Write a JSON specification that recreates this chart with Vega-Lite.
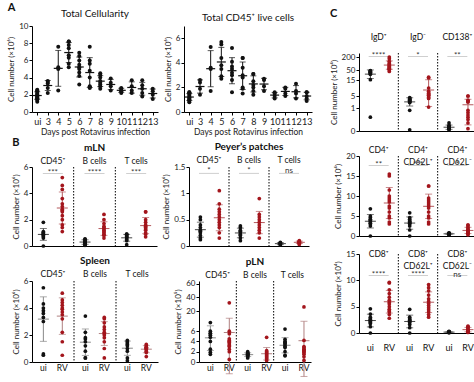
{
"$schema":"https://vega.github.io/schema/vega-lite/v6.json",
"background":"white",
"padding":{"left":7,"top":2,"right":0,"bottom":0},
"config":{"font":"Lato","view":{"stroke":null},
 "axis":{"grid":false,"domainColor":"#000","tickColor":"#000","labelFontSize":8,"titleFontSize":8,"titleFontWeight":"normal","labelColor":"#222","titleColor":"#222","tickSize":3,"labelPadding":1,"titlePadding":3,"labelFont":"Lato","titleFont":"Lato","labelOverlap":false},
 "axisY":{"tickCount":12,"format":"~r"},
 "title":{"fontSize":10,"font":"Lato","offset":3,"color":"#111"},
 "text":{"font":"Lato"}},
"datasets":{
"A":[
{"p":"t","d":"ui","v":1.2},{"p":"t","d":"ui","v":1.4},{"p":"t","d":"ui","v":1.5},{"p":"t","d":"ui","v":1.6},{"p":"t","d":"ui","v":1.7},{"p":"t","d":"ui","v":1.8},{"p":"t","d":"ui","v":1.9},{"p":"t","d":"ui","v":2.0},{"p":"t","d":"ui","v":2.1},{"p":"t","d":"ui","v":2.2},{"p":"t","d":"ui","v":2.4},{"p":"t","d":"ui","v":2.5},{"p":"t","d":"ui","v":2.6},
{"p":"t","d":"3","v":2.2},{"p":"t","d":"3","v":2.8},{"p":"t","d":"3","v":3.3},{"p":"t","d":"3","v":3.5},{"p":"t","d":"3","v":3.6},
{"p":"t","d":"4","v":2.5},{"p":"t","d":"4","v":5.0},{"p":"t","d":"4","v":5.2},{"p":"t","d":"4","v":7.6},
{"p":"t","d":"5","v":5.2},{"p":"t","d":"5","v":5.6},{"p":"t","d":"5","v":6.3},{"p":"t","d":"5","v":6.6},{"p":"t","d":"5","v":7.4},{"p":"t","d":"5","v":7.8},{"p":"t","d":"5","v":8.2},{"p":"t","d":"5","v":8.2},
{"p":"t","d":"6","v":3.2},{"p":"t","d":"6","v":4.2},{"p":"t","d":"6","v":4.6},{"p":"t","d":"6","v":5.0},{"p":"t","d":"6","v":5.2},{"p":"t","d":"6","v":5.5},{"p":"t","d":"6","v":6.0},{"p":"t","d":"6","v":6.5},{"p":"t","d":"6","v":6.9},
{"p":"t","d":"7","v":2.8},{"p":"t","d":"7","v":2.9},{"p":"t","d":"7","v":3.0},{"p":"t","d":"7","v":4.0},{"p":"t","d":"7","v":4.8},{"p":"t","d":"7","v":5.6},{"p":"t","d":"7","v":6.0},{"p":"t","d":"7","v":7.6},
{"p":"t","d":"8","v":2.7},{"p":"t","d":"8","v":3.0},{"p":"t","d":"8","v":3.2},{"p":"t","d":"8","v":3.4},{"p":"t","d":"8","v":3.6},{"p":"t","d":"8","v":4.0},{"p":"t","d":"8","v":4.3},{"p":"t","d":"8","v":4.5},
{"p":"t","d":"9","v":2.5},{"p":"t","d":"9","v":3.0},{"p":"t","d":"9","v":3.4},{"p":"t","d":"9","v":3.9},
{"p":"t","d":"10","v":2.2},{"p":"t","d":"10","v":2.4},{"p":"t","d":"10","v":2.5},{"p":"t","d":"10","v":2.7},{"p":"t","d":"10","v":2.8},
{"p":"t","d":"11","v":2.2},{"p":"t","d":"11","v":2.5},{"p":"t","d":"11","v":3.0},{"p":"t","d":"11","v":3.7},
{"p":"t","d":"12","v":1.8},{"p":"t","d":"12","v":2.2},{"p":"t","d":"12","v":2.7},{"p":"t","d":"12","v":3.1},{"p":"t","d":"12","v":3.7},
{"p":"t","d":"13","v":1.5},{"p":"t","d":"13","v":2.0},{"p":"t","d":"13","v":2.4},{"p":"t","d":"13","v":2.7},
{"p":"c","d":"ui","v":0.8},{"p":"c","d":"ui","v":0.9},{"p":"c","d":"ui","v":1.0},{"p":"c","d":"ui","v":1.0},{"p":"c","d":"ui","v":1.1},{"p":"c","d":"ui","v":1.2},{"p":"c","d":"ui","v":1.3},{"p":"c","d":"ui","v":1.4},{"p":"c","d":"ui","v":1.5},{"p":"c","d":"ui","v":1.6},{"p":"c","d":"ui","v":1.6},
{"p":"c","d":"3","v":1.4},{"p":"c","d":"3","v":1.9},{"p":"c","d":"3","v":2.4},{"p":"c","d":"3","v":2.6},
{"p":"c","d":"4","v":1.7},{"p":"c","d":"4","v":3.5},{"p":"c","d":"4","v":3.6},{"p":"c","d":"4","v":5.3},
{"p":"c","d":"5","v":2.7},{"p":"c","d":"5","v":2.9},{"p":"c","d":"5","v":3.5},{"p":"c","d":"5","v":3.8},{"p":"c","d":"5","v":4.4},{"p":"c","d":"5","v":5.5},{"p":"c","d":"5","v":5.7},
{"p":"c","d":"6","v":1.6},{"p":"c","d":"6","v":2.6},{"p":"c","d":"6","v":3.0},{"p":"c","d":"6","v":3.2},{"p":"c","d":"6","v":3.5},{"p":"c","d":"6","v":3.7},{"p":"c","d":"6","v":4.1},{"p":"c","d":"6","v":5.2},
{"p":"c","d":"7","v":1.5},{"p":"c","d":"7","v":1.9},{"p":"c","d":"7","v":2.0},{"p":"c","d":"7","v":2.8},{"p":"c","d":"7","v":3.0},{"p":"c","d":"7","v":3.6},{"p":"c","d":"7","v":4.4},{"p":"c","d":"7","v":4.4},
{"p":"c","d":"8","v":1.4},{"p":"c","d":"8","v":1.7},{"p":"c","d":"8","v":2.0},{"p":"c","d":"8","v":2.2},{"p":"c","d":"8","v":2.5},{"p":"c","d":"8","v":3.1},{"p":"c","d":"8","v":3.1},
{"p":"c","d":"9","v":1.7},{"p":"c","d":"9","v":2.1},{"p":"c","d":"9","v":2.6},{"p":"c","d":"9","v":2.7},
{"p":"c","d":"10","v":1.1},{"p":"c","d":"10","v":1.3},{"p":"c","d":"10","v":1.5},{"p":"c","d":"10","v":1.6},
{"p":"c","d":"11","v":1.3},{"p":"c","d":"11","v":1.5},{"p":"c","d":"11","v":1.9},{"p":"c","d":"11","v":2.0},
{"p":"c","d":"12","v":1.1},{"p":"c","d":"12","v":1.5},{"p":"c","d":"12","v":1.7},{"p":"c","d":"12","v":2.3},
{"p":"c","d":"13","v":0.9},{"p":"c","d":"13","v":1.1},{"p":"c","d":"13","v":1.3},{"p":"c","d":"13","v":1.6},{"p":"c","d":"13","v":1.6}
],
"grp":[
{"p":"m","g":"a","t":"CD45⁺","s":"***"},{"p":"m","g":"b","t":"B cells","s":"****"},{"p":"m","g":"c","t":"T cells","s":"***"},
{"p":"pp","g":"a","t":"CD45⁺","s":"*"},{"p":"pp","g":"b","t":"B cells","s":"*"},{"p":"pp","g":"c","t":"T cells","s":"ns"},
{"p":"s","g":"a","t":"CD45⁺","s":""},{"p":"s","g":"b","t":"B cells","s":""},{"p":"s","g":"c","t":"T cells","s":""},
{"p":"l","g":"a","t":"CD45⁺","s":""},{"p":"l","g":"b","t":"B cells","s":""},{"p":"l","g":"c","t":"T cells","s":""},
{"p":"c1","g":"a","t":"IgD⁺","s":"****"},{"p":"c1","g":"b","t":"IgD⁻","s":"*"},{"p":"c1","g":"c","t":"CD138⁺","s":"**"},
{"p":"c2","g":"a","t":"CD4⁺","s":"**"},{"p":"c2","g":"b","t":"CD4⁺\nCD62L⁺","s":"***"},{"p":"c2","g":"c","t":"CD4⁺\nCD62L⁻","s":"*"},
{"p":"c3","g":"a","t":"CD8⁺","s":"****"},{"p":"c3","g":"b","t":"CD8⁺\nCD62L⁺","s":"****"},{"p":"c3","g":"c","t":"CD8⁺\nCD62L⁻","s":"ns"}
],
"pts":[
{"p":"m","g":"a","c":"ui","v":0.0},{"p":"m","g":"a","c":"ui","v":0.6},{"p":"m","g":"a","c":"ui","v":0.7},{"p":"m","g":"a","c":"ui","v":0.8},{"p":"m","g":"a","c":"ui","v":0.9},{"p":"m","g":"a","c":"ui","v":0.9},{"p":"m","g":"a","c":"ui","v":1.0},{"p":"m","g":"a","c":"ui","v":1.0},{"p":"m","g":"a","c":"ui","v":1.1},{"p":"m","g":"a","c":"ui","v":1.8},
{"p":"m","g":"a","c":"RV","v":1.1},{"p":"m","g":"a","c":"RV","v":1.4},{"p":"m","g":"a","c":"RV","v":1.6},{"p":"m","g":"a","c":"RV","v":2.0},{"p":"m","g":"a","c":"RV","v":2.3},{"p":"m","g":"a","c":"RV","v":2.6},{"p":"m","g":"a","c":"RV","v":2.7},{"p":"m","g":"a","c":"RV","v":2.8},{"p":"m","g":"a","c":"RV","v":3.0},{"p":"m","g":"a","c":"RV","v":3.2},{"p":"m","g":"a","c":"RV","v":3.6},{"p":"m","g":"a","c":"RV","v":4.3},{"p":"m","g":"a","c":"RV","v":4.6},{"p":"m","g":"a","c":"RV","v":5.2},
{"p":"m","g":"b","c":"ui","v":0.05},{"p":"m","g":"b","c":"ui","v":0.1},{"p":"m","g":"b","c":"ui","v":0.2},{"p":"m","g":"b","c":"ui","v":0.25},{"p":"m","g":"b","c":"ui","v":0.3},{"p":"m","g":"b","c":"ui","v":0.35},{"p":"m","g":"b","c":"ui","v":0.4},{"p":"m","g":"b","c":"ui","v":0.5},{"p":"m","g":"b","c":"ui","v":0.55},
{"p":"m","g":"b","c":"RV","v":0.6},{"p":"m","g":"b","c":"RV","v":0.8},{"p":"m","g":"b","c":"RV","v":0.9},{"p":"m","g":"b","c":"RV","v":1.0},{"p":"m","g":"b","c":"RV","v":1.1},{"p":"m","g":"b","c":"RV","v":1.2},{"p":"m","g":"b","c":"RV","v":1.3},{"p":"m","g":"b","c":"RV","v":1.4},{"p":"m","g":"b","c":"RV","v":1.5},{"p":"m","g":"b","c":"RV","v":1.7},{"p":"m","g":"b","c":"RV","v":2.0},{"p":"m","g":"b","c":"RV","v":2.4},
{"p":"m","g":"c","c":"ui","v":0.1},{"p":"m","g":"c","c":"ui","v":0.4},{"p":"m","g":"c","c":"ui","v":0.5},{"p":"m","g":"c","c":"ui","v":0.6},{"p":"m","g":"c","c":"ui","v":0.7},{"p":"m","g":"c","c":"ui","v":0.7},{"p":"m","g":"c","c":"ui","v":0.8},{"p":"m","g":"c","c":"ui","v":0.9},{"p":"m","g":"c","c":"ui","v":0.9},
{"p":"m","g":"c","c":"RV","v":0.7},{"p":"m","g":"c","c":"RV","v":0.9},{"p":"m","g":"c","c":"RV","v":1.0},{"p":"m","g":"c","c":"RV","v":1.2},{"p":"m","g":"c","c":"RV","v":1.3},{"p":"m","g":"c","c":"RV","v":1.4},{"p":"m","g":"c","c":"RV","v":1.5},{"p":"m","g":"c","c":"RV","v":1.6},{"p":"m","g":"c","c":"RV","v":1.8},{"p":"m","g":"c","c":"RV","v":2.0},{"p":"m","g":"c","c":"RV","v":2.6},{"p":"m","g":"c","c":"RV","v":2.6},
{"p":"pp","g":"a","c":"ui","v":0.12},{"p":"pp","g":"a","c":"ui","v":0.15},{"p":"pp","g":"a","c":"ui","v":0.2},{"p":"pp","g":"a","c":"ui","v":0.25},{"p":"pp","g":"a","c":"ui","v":0.28},{"p":"pp","g":"a","c":"ui","v":0.3},{"p":"pp","g":"a","c":"ui","v":0.35},{"p":"pp","g":"a","c":"ui","v":0.4},{"p":"pp","g":"a","c":"ui","v":0.5},{"p":"pp","g":"a","c":"ui","v":0.55},
{"p":"pp","g":"a","c":"RV","v":0.15},{"p":"pp","g":"a","c":"RV","v":0.25},{"p":"pp","g":"a","c":"RV","v":0.35},{"p":"pp","g":"a","c":"RV","v":0.4},{"p":"pp","g":"a","c":"RV","v":0.45},{"p":"pp","g":"a","c":"RV","v":0.5},{"p":"pp","g":"a","c":"RV","v":0.55},{"p":"pp","g":"a","c":"RV","v":0.6},{"p":"pp","g":"a","c":"RV","v":0.65},{"p":"pp","g":"a","c":"RV","v":0.7},{"p":"pp","g":"a","c":"RV","v":0.8},{"p":"pp","g":"a","c":"RV","v":1.05},
{"p":"pp","g":"b","c":"ui","v":0.1},{"p":"pp","g":"b","c":"ui","v":0.15},{"p":"pp","g":"b","c":"ui","v":0.2},{"p":"pp","g":"b","c":"ui","v":0.22},{"p":"pp","g":"b","c":"ui","v":0.25},{"p":"pp","g":"b","c":"ui","v":0.28},{"p":"pp","g":"b","c":"ui","v":0.3},{"p":"pp","g":"b","c":"ui","v":0.35},{"p":"pp","g":"b","c":"ui","v":0.38},
{"p":"pp","g":"b","c":"RV","v":0.15},{"p":"pp","g":"b","c":"RV","v":0.25},{"p":"pp","g":"b","c":"RV","v":0.3},{"p":"pp","g":"b","c":"RV","v":0.35},{"p":"pp","g":"b","c":"RV","v":0.4},{"p":"pp","g":"b","c":"RV","v":0.45},{"p":"pp","g":"b","c":"RV","v":0.5},{"p":"pp","g":"b","c":"RV","v":0.55},{"p":"pp","g":"b","c":"RV","v":0.6},{"p":"pp","g":"b","c":"RV","v":0.9},
{"p":"pp","g":"c","c":"ui","v":0.02},{"p":"pp","g":"c","c":"ui","v":0.03},{"p":"pp","g":"c","c":"ui","v":0.04},{"p":"pp","g":"c","c":"ui","v":0.05},{"p":"pp","g":"c","c":"ui","v":0.06},{"p":"pp","g":"c","c":"ui","v":0.07},
{"p":"pp","g":"c","c":"RV","v":0.03},{"p":"pp","g":"c","c":"RV","v":0.05},{"p":"pp","g":"c","c":"RV","v":0.06},{"p":"pp","g":"c","c":"RV","v":0.07},{"p":"pp","g":"c","c":"RV","v":0.08},{"p":"pp","g":"c","c":"RV","v":0.08},{"p":"pp","g":"c","c":"RV","v":0.09},{"p":"pp","g":"c","c":"RV","v":0.1},
{"p":"s","g":"a","c":"ui","v":0.5},{"p":"s","g":"a","c":"ui","v":0.6},{"p":"s","g":"a","c":"ui","v":3.0},{"p":"s","g":"a","c":"ui","v":3.3},{"p":"s","g":"a","c":"ui","v":3.6},{"p":"s","g":"a","c":"ui","v":3.8},{"p":"s","g":"a","c":"ui","v":4.0},{"p":"s","g":"a","c":"ui","v":4.3},{"p":"s","g":"a","c":"ui","v":5.5},
{"p":"s","g":"a","c":"RV","v":0.5},{"p":"s","g":"a","c":"RV","v":1.5},{"p":"s","g":"a","c":"RV","v":2.2},{"p":"s","g":"a","c":"RV","v":3.2},{"p":"s","g":"a","c":"RV","v":3.5},{"p":"s","g":"a","c":"RV","v":3.7},{"p":"s","g":"a","c":"RV","v":3.9},{"p":"s","g":"a","c":"RV","v":4.0},{"p":"s","g":"a","c":"RV","v":4.2},{"p":"s","g":"a","c":"RV","v":4.4},{"p":"s","g":"a","c":"RV","v":4.6},{"p":"s","g":"a","c":"RV","v":5.1},
{"p":"s","g":"b","c":"ui","v":0.3},{"p":"s","g":"b","c":"ui","v":0.3},{"p":"s","g":"b","c":"ui","v":0.8},{"p":"s","g":"b","c":"ui","v":1.2},{"p":"s","g":"b","c":"ui","v":1.5},{"p":"s","g":"b","c":"ui","v":1.7},{"p":"s","g":"b","c":"ui","v":1.8},{"p":"s","g":"b","c":"ui","v":2.2},{"p":"s","g":"b","c":"ui","v":3.4},
{"p":"s","g":"b","c":"RV","v":0.3},{"p":"s","g":"b","c":"RV","v":1.0},{"p":"s","g":"b","c":"RV","v":1.5},{"p":"s","g":"b","c":"RV","v":1.8},{"p":"s","g":"b","c":"RV","v":2.0},{"p":"s","g":"b","c":"RV","v":2.1},{"p":"s","g":"b","c":"RV","v":2.2},{"p":"s","g":"b","c":"RV","v":2.4},{"p":"s","g":"b","c":"RV","v":2.6},{"p":"s","g":"b","c":"RV","v":2.9},{"p":"s","g":"b","c":"RV","v":3.2},{"p":"s","g":"b","c":"RV","v":3.3},
{"p":"s","g":"c","c":"ui","v":0.1},{"p":"s","g":"c","c":"ui","v":0.3},{"p":"s","g":"c","c":"ui","v":0.8},{"p":"s","g":"c","c":"ui","v":1.0},{"p":"s","g":"c","c":"ui","v":1.2},{"p":"s","g":"c","c":"ui","v":1.3},{"p":"s","g":"c","c":"ui","v":1.4},{"p":"s","g":"c","c":"ui","v":1.5},{"p":"s","g":"c","c":"ui","v":1.6},
{"p":"s","g":"c","c":"RV","v":0.4},{"p":"s","g":"c","c":"RV","v":0.7},{"p":"s","g":"c","c":"RV","v":0.8},{"p":"s","g":"c","c":"RV","v":0.9},{"p":"s","g":"c","c":"RV","v":1.0},{"p":"s","g":"c","c":"RV","v":1.0},{"p":"s","g":"c","c":"RV","v":1.1},{"p":"s","g":"c","c":"RV","v":1.1},{"p":"s","g":"c","c":"RV","v":1.2},{"p":"s","g":"c","c":"RV","v":1.3},
{"p":"l","g":"a","c":"ui","v":1.5},{"p":"l","g":"a","c":"ui","v":1.9},{"p":"l","g":"a","c":"ui","v":2.5},{"p":"l","g":"a","c":"ui","v":4.0},{"p":"l","g":"a","c":"ui","v":4.8},{"p":"l","g":"a","c":"ui","v":5.2},{"p":"l","g":"a","c":"ui","v":5.5},{"p":"l","g":"a","c":"ui","v":5.6},{"p":"l","g":"a","c":"ui","v":6.0},{"p":"l","g":"a","c":"ui","v":10},
{"p":"l","g":"a","c":"RV","v":0.5},{"p":"l","g":"a","c":"RV","v":2.0},{"p":"l","g":"a","c":"RV","v":2.5},{"p":"l","g":"a","c":"RV","v":3.0},{"p":"l","g":"a","c":"RV","v":3.2},{"p":"l","g":"a","c":"RV","v":3.5},{"p":"l","g":"a","c":"RV","v":3.8},{"p":"l","g":"a","c":"RV","v":4.0},{"p":"l","g":"a","c":"RV","v":4.2},{"p":"l","g":"a","c":"RV","v":4.5},{"p":"l","g":"a","c":"RV","v":5.5},{"p":"l","g":"a","c":"RV","v":6.0},{"p":"l","g":"a","c":"RV","v":32},
{"p":"l","g":"b","c":"ui","v":0.8},{"p":"l","g":"b","c":"ui","v":1.0},{"p":"l","g":"b","c":"ui","v":1.2},{"p":"l","g":"b","c":"ui","v":1.3},{"p":"l","g":"b","c":"ui","v":1.4},{"p":"l","g":"b","c":"ui","v":1.5},{"p":"l","g":"b","c":"ui","v":1.6},{"p":"l","g":"b","c":"ui","v":1.7},{"p":"l","g":"b","c":"ui","v":1.8},{"p":"l","g":"b","c":"ui","v":2.0},
{"p":"l","g":"b","c":"RV","v":0.3},{"p":"l","g":"b","c":"RV","v":0.6},{"p":"l","g":"b","c":"RV","v":0.8},{"p":"l","g":"b","c":"RV","v":1.0},{"p":"l","g":"b","c":"RV","v":1.2},{"p":"l","g":"b","c":"RV","v":1.4},{"p":"l","g":"b","c":"RV","v":1.6},{"p":"l","g":"b","c":"RV","v":1.8},{"p":"l","g":"b","c":"RV","v":2.0},{"p":"l","g":"b","c":"RV","v":2.2},{"p":"l","g":"b","c":"RV","v":4.8},
{"p":"l","g":"c","c":"ui","v":1.2},{"p":"l","g":"c","c":"ui","v":1.3},{"p":"l","g":"c","c":"ui","v":2.0},{"p":"l","g":"c","c":"ui","v":2.8},{"p":"l","g":"c","c":"ui","v":3.0},{"p":"l","g":"c","c":"ui","v":3.3},{"p":"l","g":"c","c":"ui","v":3.6},{"p":"l","g":"c","c":"ui","v":3.8},{"p":"l","g":"c","c":"ui","v":4.0},{"p":"l","g":"c","c":"ui","v":4.4},{"p":"l","g":"c","c":"ui","v":6.4},
{"p":"l","g":"c","c":"RV","v":0.3},{"p":"l","g":"c","c":"RV","v":1.0},{"p":"l","g":"c","c":"RV","v":1.5},{"p":"l","g":"c","c":"RV","v":1.8},{"p":"l","g":"c","c":"RV","v":2.0},{"p":"l","g":"c","c":"RV","v":2.2},{"p":"l","g":"c","c":"RV","v":2.4},{"p":"l","g":"c","c":"RV","v":2.5},{"p":"l","g":"c","c":"RV","v":2.8},{"p":"l","g":"c","c":"RV","v":3.0},{"p":"l","g":"c","c":"RV","v":4.2},{"p":"l","g":"c","c":"RV","v":26},
{"p":"c1","g":"a","c":"ui","v":0.6},{"p":"c1","g":"a","c":"ui","v":16},{"p":"c1","g":"a","c":"ui","v":35},{"p":"c1","g":"a","c":"ui","v":38},{"p":"c1","g":"a","c":"ui","v":40},{"p":"c1","g":"a","c":"ui","v":42},{"p":"c1","g":"a","c":"ui","v":44},{"p":"c1","g":"a","c":"ui","v":45},{"p":"c1","g":"a","c":"ui","v":47},{"p":"c1","g":"a","c":"ui","v":48},
{"p":"c1","g":"a","c":"RV","v":45},{"p":"c1","g":"a","c":"RV","v":55},{"p":"c1","g":"a","c":"RV","v":60},{"p":"c1","g":"a","c":"RV","v":70},{"p":"c1","g":"a","c":"RV","v":80},{"p":"c1","g":"a","c":"RV","v":90},{"p":"c1","g":"a","c":"RV","v":100},{"p":"c1","g":"a","c":"RV","v":110},{"p":"c1","g":"a","c":"RV","v":120},{"p":"c1","g":"a","c":"RV","v":130},{"p":"c1","g":"a","c":"RV","v":150},{"p":"c1","g":"a","c":"RV","v":180},{"p":"c1","g":"a","c":"RV","v":200},
{"p":"c1","g":"b","c":"ui","v":0.05},{"p":"c1","g":"b","c":"ui","v":0.9},{"p":"c1","g":"b","c":"ui","v":2.8},{"p":"c1","g":"b","c":"ui","v":3.0},{"p":"c1","g":"b","c":"ui","v":3.2},{"p":"c1","g":"b","c":"ui","v":3.4},{"p":"c1","g":"b","c":"ui","v":3.6},{"p":"c1","g":"b","c":"ui","v":3.8},{"p":"c1","g":"b","c":"ui","v":4.0},{"p":"c1","g":"b","c":"ui","v":4.2},{"p":"c1","g":"b","c":"ui","v":4.5},
{"p":"c1","g":"b","c":"RV","v":1.3},{"p":"c1","g":"b","c":"RV","v":4.2},{"p":"c1","g":"b","c":"RV","v":4.5},{"p":"c1","g":"b","c":"RV","v":5.0},{"p":"c1","g":"b","c":"RV","v":5.5},{"p":"c1","g":"b","c":"RV","v":6.0},{"p":"c1","g":"b","c":"RV","v":6.5},{"p":"c1","g":"b","c":"RV","v":7.0},{"p":"c1","g":"b","c":"RV","v":8.0},{"p":"c1","g":"b","c":"RV","v":10},{"p":"c1","g":"b","c":"RV","v":22},{"p":"c1","g":"b","c":"RV","v":25},
{"p":"c1","g":"c","c":"ui","v":0.05},{"p":"c1","g":"c","c":"ui","v":0.08},{"p":"c1","g":"c","c":"ui","v":0.1},{"p":"c1","g":"c","c":"ui","v":0.12},{"p":"c1","g":"c","c":"ui","v":0.15},{"p":"c1","g":"c","c":"ui","v":0.18},{"p":"c1","g":"c","c":"ui","v":0.2},{"p":"c1","g":"c","c":"ui","v":0.25},{"p":"c1","g":"c","c":"ui","v":0.35},
{"p":"c1","g":"c","c":"RV","v":0.1},{"p":"c1","g":"c","c":"RV","v":0.35},{"p":"c1","g":"c","c":"RV","v":0.5},{"p":"c1","g":"c","c":"RV","v":0.6},{"p":"c1","g":"c","c":"RV","v":0.7},{"p":"c1","g":"c","c":"RV","v":0.8},{"p":"c1","g":"c","c":"RV","v":0.9},{"p":"c1","g":"c","c":"RV","v":3.0},{"p":"c1","g":"c","c":"RV","v":3.1},{"p":"c1","g":"c","c":"RV","v":3.4},{"p":"c1","g":"c","c":"RV","v":3.6},{"p":"c1","g":"c","c":"RV","v":5.0},{"p":"c1","g":"c","c":"RV","v":5.0},
{"p":"c2","g":"a","c":"ui","v":0},{"p":"c2","g":"a","c":"ui","v":2.5},{"p":"c2","g":"a","c":"ui","v":3.0},{"p":"c2","g":"a","c":"ui","v":3.2},{"p":"c2","g":"a","c":"ui","v":3.5},{"p":"c2","g":"a","c":"ui","v":3.8},{"p":"c2","g":"a","c":"ui","v":4.0},{"p":"c2","g":"a","c":"ui","v":4.2},{"p":"c2","g":"a","c":"ui","v":4.6},{"p":"c2","g":"a","c":"ui","v":5.0},{"p":"c2","g":"a","c":"ui","v":6.8},
{"p":"c2","g":"a","c":"RV","v":3},{"p":"c2","g":"a","c":"RV","v":3.5},{"p":"c2","g":"a","c":"RV","v":4.5},{"p":"c2","g":"a","c":"RV","v":5},{"p":"c2","g":"a","c":"RV","v":6},{"p":"c2","g":"a","c":"RV","v":7},{"p":"c2","g":"a","c":"RV","v":7.5},{"p":"c2","g":"a","c":"RV","v":8.5},{"p":"c2","g":"a","c":"RV","v":9},{"p":"c2","g":"a","c":"RV","v":9.5},{"p":"c2","g":"a","c":"RV","v":10},{"p":"c2","g":"a","c":"RV","v":11.5},{"p":"c2","g":"a","c":"RV","v":15},{"p":"c2","g":"a","c":"RV","v":15.5},
{"p":"c2","g":"b","c":"ui","v":0},{"p":"c2","g":"b","c":"ui","v":1.5},{"p":"c2","g":"b","c":"ui","v":2.5},{"p":"c2","g":"b","c":"ui","v":3.0},{"p":"c2","g":"b","c":"ui","v":3.2},{"p":"c2","g":"b","c":"ui","v":3.4},{"p":"c2","g":"b","c":"ui","v":3.6},{"p":"c2","g":"b","c":"ui","v":3.8},{"p":"c2","g":"b","c":"ui","v":4.2},{"p":"c2","g":"b","c":"ui","v":4.6},{"p":"c2","g":"b","c":"ui","v":5.8},
{"p":"c2","g":"b","c":"RV","v":3},{"p":"c2","g":"b","c":"RV","v":3.5},{"p":"c2","g":"b","c":"RV","v":4.5},{"p":"c2","g":"b","c":"RV","v":5},{"p":"c2","g":"b","c":"RV","v":6},{"p":"c2","g":"b","c":"RV","v":7},{"p":"c2","g":"b","c":"RV","v":7.5},{"p":"c2","g":"b","c":"RV","v":8},{"p":"c2","g":"b","c":"RV","v":8.5},{"p":"c2","g":"b","c":"RV","v":9},{"p":"c2","g":"b","c":"RV","v":9.5},{"p":"c2","g":"b","c":"RV","v":12.5},{"p":"c2","g":"b","c":"RV","v":12.5},
{"p":"c2","g":"c","c":"ui","v":0.3},{"p":"c2","g":"c","c":"ui","v":0.4},{"p":"c2","g":"c","c":"ui","v":0.5},{"p":"c2","g":"c","c":"ui","v":0.5},{"p":"c2","g":"c","c":"ui","v":0.5},{"p":"c2","g":"c","c":"ui","v":0.6},{"p":"c2","g":"c","c":"ui","v":0.6},{"p":"c2","g":"c","c":"ui","v":0.7},{"p":"c2","g":"c","c":"ui","v":0.8},
{"p":"c2","g":"c","c":"RV","v":0.3},{"p":"c2","g":"c","c":"RV","v":0.5},{"p":"c2","g":"c","c":"RV","v":0.7},{"p":"c2","g":"c","c":"RV","v":0.9},{"p":"c2","g":"c","c":"RV","v":1.0},{"p":"c2","g":"c","c":"RV","v":1.1},{"p":"c2","g":"c","c":"RV","v":1.2},{"p":"c2","g":"c","c":"RV","v":1.4},{"p":"c2","g":"c","c":"RV","v":1.6},{"p":"c2","g":"c","c":"RV","v":1.8},{"p":"c2","g":"c","c":"RV","v":2.2},{"p":"c2","g":"c","c":"RV","v":2.6},{"p":"c2","g":"c","c":"RV","v":2.8},
{"p":"c3","g":"a","c":"ui","v":0},{"p":"c3","g":"a","c":"ui","v":1.2},{"p":"c3","g":"a","c":"ui","v":1.8},{"p":"c3","g":"a","c":"ui","v":2.0},{"p":"c3","g":"a","c":"ui","v":2.2},{"p":"c3","g":"a","c":"ui","v":2.4},{"p":"c3","g":"a","c":"ui","v":2.5},{"p":"c3","g":"a","c":"ui","v":2.7},{"p":"c3","g":"a","c":"ui","v":3.0},{"p":"c3","g":"a","c":"ui","v":3.6},{"p":"c3","g":"a","c":"ui","v":4.6},
{"p":"c3","g":"a","c":"RV","v":2.8},{"p":"c3","g":"a","c":"RV","v":3.5},{"p":"c3","g":"a","c":"RV","v":4.0},{"p":"c3","g":"a","c":"RV","v":4.2},{"p":"c3","g":"a","c":"RV","v":4.5},{"p":"c3","g":"a","c":"RV","v":5.0},{"p":"c3","g":"a","c":"RV","v":5.5},{"p":"c3","g":"a","c":"RV","v":5.8},{"p":"c3","g":"a","c":"RV","v":6.2},{"p":"c3","g":"a","c":"RV","v":6.8},{"p":"c3","g":"a","c":"RV","v":7.5},{"p":"c3","g":"a","c":"RV","v":8.2},{"p":"c3","g":"a","c":"RV","v":9.5},{"p":"c3","g":"a","c":"RV","v":9.6},
{"p":"c3","g":"b","c":"ui","v":0},{"p":"c3","g":"b","c":"ui","v":1.0},{"p":"c3","g":"b","c":"ui","v":1.6},{"p":"c3","g":"b","c":"ui","v":2.0},{"p":"c3","g":"b","c":"ui","v":2.2},{"p":"c3","g":"b","c":"ui","v":2.4},{"p":"c3","g":"b","c":"ui","v":2.5},{"p":"c3","g":"b","c":"ui","v":2.7},{"p":"c3","g":"b","c":"ui","v":3.0},{"p":"c3","g":"b","c":"ui","v":4.5},
{"p":"c3","g":"b","c":"RV","v":3.0},{"p":"c3","g":"b","c":"RV","v":3.5},{"p":"c3","g":"b","c":"RV","v":4.0},{"p":"c3","g":"b","c":"RV","v":4.4},{"p":"c3","g":"b","c":"RV","v":4.8},{"p":"c3","g":"b","c":"RV","v":5.2},{"p":"c3","g":"b","c":"RV","v":5.6},{"p":"c3","g":"b","c":"RV","v":6.0},{"p":"c3","g":"b","c":"RV","v":6.5},{"p":"c3","g":"b","c":"RV","v":7.2},{"p":"c3","g":"b","c":"RV","v":8.0},{"p":"c3","g":"b","c":"RV","v":8.6},{"p":"c3","g":"b","c":"RV","v":9.2},
{"p":"c3","g":"c","c":"ui","v":0.05},{"p":"c3","g":"c","c":"ui","v":0.1},{"p":"c3","g":"c","c":"ui","v":0.1},{"p":"c3","g":"c","c":"ui","v":0.15},{"p":"c3","g":"c","c":"ui","v":0.2},{"p":"c3","g":"c","c":"ui","v":0.2},{"p":"c3","g":"c","c":"ui","v":0.25},{"p":"c3","g":"c","c":"ui","v":0.3},
{"p":"c3","g":"c","c":"RV","v":0.1},{"p":"c3","g":"c","c":"RV","v":0.2},{"p":"c3","g":"c","c":"RV","v":0.3},{"p":"c3","g":"c","c":"RV","v":0.4},{"p":"c3","g":"c","c":"RV","v":0.5},{"p":"c3","g":"c","c":"RV","v":0.6},{"p":"c3","g":"c","c":"RV","v":0.8},{"p":"c3","g":"c","c":"RV","v":1.0},{"p":"c3","g":"c","c":"RV","v":1.2},{"p":"c3","g":"c","c":"RV","v":1.3}
]
},
"spacing":18,
"hconcat":[
 {"spacing":0,"vconcat":[
  {"title":{"text":"A","anchor":"start","fontWeight":"bold","fontSize":11,"offset":-4},
   "spacing":6,
   "hconcat":[
    {"width":126,"height":86,
     "title":{"text":"Total Cellularity","fontWeight":"normal","fontSize":10},
     "data":{"name":"A"},"transform":[{"filter":"datum.p=='t'"}],
     "encoding":{"x":{"field":"d","type":"ordinal","scale":{"type":"point","domain":["ui","3","4","5","6","7","8","9","10","11","12","13"],"padding":0.5},"axis":{"labelAngle":0,"labelFontSize":9,"title":"Days post Rotavirus infection","titleFontSize":8.5,"tickSize":3,"labelPadding":2,"titlePadding":1}}},
     "layer":[
      {"mark":{"type":"errorbar","extent":"stdev","ticks":{"size":6},"color":"#111"},"encoding":{"y":{"field":"v","type":"quantitative","scale":{"domain":[0,10],"nice":false},"axis":{"values":[0,2,4,6,8,10],"tickCount":12,"format":"~r","title":"Cell number (×10⁶)"}}}},
      {"mark":{"type":"tick","thickness":1.2,"size":9,"color":"#111"},"encoding":{"y":{"aggregate":"mean","field":"v","type":"quantitative"}}},
      {"mark":{"type":"point","filled":true,"size":16,"color":"#111","opacity":1},"encoding":{"y":{"field":"v","type":"quantitative"}}}
     ]},
    {"width":128,"height":86,
     "title":{"text":"Total CD45⁺ live cells","fontWeight":"normal","fontSize":10},
     "data":{"name":"A"},"transform":[{"filter":"datum.p=='c'"}],
     "encoding":{"x":{"field":"d","type":"ordinal","scale":{"type":"point","domain":["ui","3","4","5","6","7","8","9","10","11","12","13"],"padding":0.5},"axis":{"labelAngle":0,"labelFontSize":9,"title":"Days post Rotavirus infection","titleFontSize":8.5,"tickSize":3,"labelPadding":2,"titlePadding":1}}},
     "layer":[
      {"mark":{"type":"errorbar","extent":"stdev","ticks":{"size":6},"color":"#111"},"encoding":{"y":{"field":"v","type":"quantitative","scale":{"domain":[0,7],"nice":false},"axis":{"values":[0,2,4,6],"tickCount":12,"format":"~r","title":"Cell number (×10⁶)"}}}},
      {"mark":{"type":"tick","thickness":1.2,"size":9,"color":"#111"},"encoding":{"y":{"aggregate":"mean","field":"v","type":"quantitative"}}},
      {"mark":{"type":"point","filled":true,"size":16,"color":"#111","opacity":1},"encoding":{"y":{"field":"v","type":"quantitative"}}}
     ]}
   ]},
  {"title":{"text":"B","anchor":"start","fontWeight":"bold","fontSize":11,"offset":-6},
   "spacing":6,
   "vconcat":[
    {"spacing":5,"hconcat":[
     {"width":125,"height":79,"title":{"text":"mLN","fontWeight":"bold","fontSize":10,"offset":4},
      "layer":[
       {"data":{"name":"grp"},"transform":[{"filter":"datum.p=='m' && datum.g!='a'"}],"mark":{"type":"rule","strokeDash":[1.5,1.5],"color":"#000"},
        "encoding":{"x":{"field":"g","type":"nominal","bandPosition":0,"scale":{"type":"band","domain":["a","b","c"],"paddingInner":0,"paddingOuter":0},"axis":{"labels":false,"ticks":false,"title":null}}}},
       {"data":{"name":"grp"},"transform":[{"filter":"datum.p=='m'"}],"mark":{"type":"text","baseline":"bottom","fontSize":8.5,"lineBreak":"\n","lineHeight":11,"color":"#111"},
        "encoding":{"x":{"field":"g","type":"nominal"},"y":{"datum":6.1,"type":"quantitative"},"text":{"field":"t"}}},
       {"data":{"name":"grp"},"transform":[{"filter":"datum.p=='m'"}],"mark":{"type":"tick","orient":"horizontal","size":20,"thickness":0.8,"color":"#aaa"},
        "encoding":{"x":{"field":"g","type":"nominal"},"y":{"datum":5.5,"type":"quantitative"}}},
       {"data":{"name":"grp"},"transform":[{"filter":"datum.p=='m'"}],"mark":{"type":"text","baseline":"middle","fontSize":8,"color":"#333"},
        "encoding":{"x":{"field":"g","type":"nominal"},"y":{"datum":5.55,"type":"quantitative"},"text":{"field":"s"}}},
       {"data":{"name":"pts"},"transform":[{"filter":"datum.p=='m'"}],"mark":{"type":"errorbar","extent":"stdev","ticks":{"size":7}},
        "encoding":{"x":{"field":"g","type":"nominal"},"xOffset":{"field":"c","type":"nominal","scale":{"domain":["ui","RV"],"paddingInner":0,"paddingOuter":0.1}},
         "y":{"field":"v","type":"quantitative","scale":{"domain":[0,6],"nice":false},"axis":{"values":[0,2,4,6],"tickCount":12,"format":"~r","title":"Cell number (×10⁶)"}},
         "color":{"condition":{"test":"datum.c=='RV'","value":"#b4585c"},"value":"#444"}}},
       {"data":{"name":"pts"},"transform":[{"filter":"datum.p=='m'"}],"mark":{"type":"tick","thickness":1,"size":11},
        "encoding":{"x":{"field":"g","type":"nominal"},"xOffset":{"field":"c","type":"nominal"},"y":{"aggregate":"mean","field":"v","type":"quantitative"},
         "color":{"condition":{"test":"datum.c=='RV'","value":"#b4585c"},"value":"#444"}}},
       {"data":{"name":"pts"},"transform":[{"filter":"datum.p=='m'"}],"mark":{"type":"point","filled":true,"size":14,"opacity":1},
        "encoding":{"x":{"field":"g","type":"nominal"},"xOffset":{"field":"c","type":"nominal"},"y":{"field":"v","type":"quantitative"},
         "color":{"field":"c","type":"nominal","scale":{"domain":["ui","RV"],"range":["#111","#a3151c"]},"legend":null}}}
      ]},
     {"width":120,"height":79,"title":{"text":"Peyer’s patches","fontWeight":"bold","fontSize":10,"offset":4},
      "layer":[
       {"data":{"name":"grp"},"transform":[{"filter":"datum.p=='pp' && datum.g!='a'"}],"mark":{"type":"rule","strokeDash":[1.5,1.5],"color":"#000"},
        "encoding":{"x":{"field":"g","type":"nominal","bandPosition":0,"scale":{"type":"band","domain":["a","b","c"],"paddingInner":0,"paddingOuter":0},"axis":{"labels":false,"ticks":false,"title":null}}}},
       {"data":{"name":"grp"},"transform":[{"filter":"datum.p=='pp'"}],"mark":{"type":"text","baseline":"bottom","fontSize":8.5,"lineBreak":"\n","lineHeight":11,"color":"#111"},
        "encoding":{"x":{"field":"g","type":"nominal"},"y":{"datum":1.54,"type":"quantitative"},"text":{"field":"t"}}},
       {"data":{"name":"grp"},"transform":[{"filter":"datum.p=='pp'"}],"mark":{"type":"tick","orient":"horizontal","size":20,"thickness":0.8,"color":"#aaa"},
        "encoding":{"x":{"field":"g","type":"nominal"},"y":{"datum":1.38,"type":"quantitative"}}},
       {"data":{"name":"grp"},"transform":[{"filter":"datum.p=='pp'"}],"mark":{"type":"text","baseline":"middle","fontSize":8,"color":"#333"},
        "encoding":{"x":{"field":"g","type":"nominal"},"y":{"datum":1.43,"type":"quantitative"},"text":{"field":"s"}}},
       {"data":{"name":"pts"},"transform":[{"filter":"datum.p=='pp'"}],"mark":{"type":"errorbar","extent":"stdev","ticks":{"size":7}},
        "encoding":{"x":{"field":"g","type":"nominal"},"xOffset":{"field":"c","type":"nominal","scale":{"domain":["ui","RV"],"paddingInner":0,"paddingOuter":0.1}},
         "y":{"field":"v","type":"quantitative","scale":{"domain":[0,1.5],"nice":false},"axis":{"values":[0,0.5,1,1.5],"tickCount":12,"format":"~r","title":"Cell number (×10⁶)"}},
         "color":{"condition":{"test":"datum.c=='RV'","value":"#b4585c"},"value":"#444"}}},
       {"data":{"name":"pts"},"transform":[{"filter":"datum.p=='pp'"}],"mark":{"type":"tick","thickness":1,"size":11},
        "encoding":{"x":{"field":"g","type":"nominal"},"xOffset":{"field":"c","type":"nominal"},"y":{"aggregate":"mean","field":"v","type":"quantitative"},
         "color":{"condition":{"test":"datum.c=='RV'","value":"#b4585c"},"value":"#444"}}},
       {"data":{"name":"pts"},"transform":[{"filter":"datum.p=='pp'"}],"mark":{"type":"point","filled":true,"size":14,"opacity":1},
        "encoding":{"x":{"field":"g","type":"nominal"},"xOffset":{"field":"c","type":"nominal"},"y":{"field":"v","type":"quantitative"},
         "color":{"field":"c","type":"nominal","scale":{"domain":["ui","RV"],"range":["#111","#a3151c"]},"legend":null}}}
      ]}
    ]},
    {"spacing":16,"hconcat":[
     {"width":126,"height":81,"title":{"text":"Spleen","fontWeight":"bold","fontSize":10,"offset":4},
      "layer":[
       {"data":{"name":"grp"},"transform":[{"filter":"datum.p=='s' && datum.g!='a'"}],"mark":{"type":"rule","strokeDash":[1.5,1.5],"color":"#000"},
        "encoding":{"x":{"field":"g","type":"nominal","bandPosition":0,"scale":{"type":"band","domain":["a","b","c"],"paddingInner":0,"paddingOuter":0},"axis":{"labels":false,"ticks":false,"title":null}}}},
       {"data":{"name":"grp"},"transform":[{"filter":"datum.p=='s'"}],"mark":{"type":"text","baseline":"bottom","fontSize":8.5,"lineBreak":"\n","lineHeight":11,"color":"#111"},
        "encoding":{"x":{"field":"g","type":"nominal"},"y":{"datum":6.12,"type":"quantitative"},"text":{"field":"t"}}},
       {"data":{"name":"pts"},"transform":[{"filter":"datum.p=='s'"},{"aggregate":[{"op":"count","as":"n"}],"groupby":["g","c"]}],"mark":{"type":"text","baseline":"middle","fontSize":8.5,"color":"#111"},
        "encoding":{"x":{"field":"g","type":"nominal"},"xOffset":{"field":"c","type":"nominal"},"y":{"datum":-0.42,"type":"quantitative"},"text":{"field":"c"}}},
       {"data":{"name":"pts"},"transform":[{"filter":"datum.p=='s'"}],"mark":{"type":"errorbar","extent":"stdev","ticks":{"size":7}},
        "encoding":{"x":{"field":"g","type":"nominal"},"xOffset":{"field":"c","type":"nominal","scale":{"domain":["ui","RV"],"paddingInner":0,"paddingOuter":0.1}},
         "y":{"field":"v","type":"quantitative","scale":{"domain":[0,6],"nice":false},"axis":{"values":[0,2,4,6],"tickCount":12,"format":"~r","title":"Cell number (×10⁶)"}},
         "color":{"condition":{"test":"datum.c=='RV'","value":"#b08080"},"value":"#888"}}},
       {"data":{"name":"pts"},"transform":[{"filter":"datum.p=='s'"}],"mark":{"type":"tick","thickness":1,"size":11},
        "encoding":{"x":{"field":"g","type":"nominal"},"xOffset":{"field":"c","type":"nominal"},"y":{"aggregate":"mean","field":"v","type":"quantitative"},
         "color":{"condition":{"test":"datum.c=='RV'","value":"#b08080"},"value":"#888"}}},
       {"data":{"name":"pts"},"transform":[{"filter":"datum.p=='s'"}],"mark":{"type":"point","filled":true,"size":14,"opacity":1},
        "encoding":{"x":{"field":"g","type":"nominal"},"xOffset":{"field":"c","type":"nominal"},"y":{"field":"v","type":"quantitative"},
         "color":{"field":"c","type":"nominal","scale":{"domain":["ui","RV"],"range":["#111","#a3151c"]},"legend":null}}}
      ]},
     {"width":112,"height":81,"title":{"text":"pLN","fontWeight":"bold","fontSize":10,"offset":4},
      "layer":[
       {"data":{"name":"grp"},"transform":[{"filter":"datum.p=='l' && datum.g!='a'"}],"mark":{"type":"rule","strokeDash":[1.5,1.5],"color":"#000"},
        "encoding":{"x":{"field":"g","type":"nominal","bandPosition":0,"scale":{"type":"band","domain":["a","b","c"],"paddingInner":0,"paddingOuter":0},"axis":{"labels":false,"ticks":false,"title":null}}}},
       {"data":{"name":"grp"},"transform":[{"filter":"datum.p=='l'"}],"mark":{"type":"text","baseline":"bottom","fontSize":8.5,"lineBreak":"\n","lineHeight":11,"color":"#111"},
        "encoding":{"x":{"field":"g","type":"nominal"},"y":{"datum":65,"type":"quantitative"},"text":{"field":"t"}}},
       {"data":{"name":"pts"},"transform":[{"filter":"datum.p=='l'"},{"aggregate":[{"op":"count","as":"n"}],"groupby":["g","c"]}],"mark":{"type":"text","baseline":"middle","fontSize":8.5,"color":"#111"},
        "encoding":{"x":{"field":"g","type":"nominal"},"xOffset":{"field":"c","type":"nominal"},"y":{"datum":-1.1,"type":"quantitative"},"text":{"field":"c"}}},
       {"data":{"name":"pts"},"transform":[{"filter":"datum.p=='l'"}],"mark":{"type":"errorbar","extent":"stdev","ticks":{"size":7}},
        "encoding":{"x":{"field":"g","type":"nominal"},"xOffset":{"field":"c","type":"nominal","scale":{"domain":["ui","RV"],"paddingInner":0,"paddingOuter":0.1}},
         "y":{"field":"v","type":"quantitative","scale":{"domain":[0,7,20,64],"range":[81,45,30,0],"nice":false,"zero":false},"axis":{"values":[0,2,4,6,20,40,60],"tickCount":12,"format":"~r","title":"Cell number (×10⁵)"}},
         "color":{"condition":{"test":"datum.c=='RV'","value":"#b08080"},"value":"#888"}}},
       {"data":{"name":"pts"},"transform":[{"filter":"datum.p=='l'"}],"mark":{"type":"tick","thickness":1,"size":11},
        "encoding":{"x":{"field":"g","type":"nominal"},"xOffset":{"field":"c","type":"nominal"},"y":{"aggregate":"mean","field":"v","type":"quantitative"},
         "color":{"condition":{"test":"datum.c=='RV'","value":"#b08080"},"value":"#888"}}},
       {"data":{"name":"pts"},"transform":[{"filter":"datum.p=='l'"}],"mark":{"type":"point","filled":true,"size":14,"opacity":1},
        "encoding":{"x":{"field":"g","type":"nominal"},"xOffset":{"field":"c","type":"nominal"},"y":{"field":"v","type":"quantitative"},
         "color":{"field":"c","type":"nominal","scale":{"domain":["ui","RV"],"range":["#111","#a3151c"]},"legend":null}}}
      ]}
    ]}
   ]}
 ]},
 {"title":{"text":"C","anchor":"start","fontWeight":"bold","fontSize":11,"offset":2},
  "spacing":0,
  "vconcat":[
   {"width":118,"height":1,"data":{"values":[{"t":""}]},"mark":{"type":"text"},"encoding":{"text":{"field":"t"}}},
   {"spacing":10,"vconcat":[
   {"width":118,"height":78,
    "layer":[
     {"data":{"name":"grp"},"transform":[{"filter":"datum.p=='c1' && datum.g!='a'"}],"mark":{"type":"rule","strokeDash":[1.5,1.5],"color":"#000"},
      "encoding":{"x":{"field":"g","type":"nominal","bandPosition":0,"scale":{"type":"band","domain":["a","b","c"],"paddingInner":0,"paddingOuter":0},"axis":{"labels":false,"ticks":false,"title":null}}}},
     {"data":{"name":"grp"},"transform":[{"filter":"datum.p=='c1'"}],"mark":{"type":"text","baseline":"bottom","fontSize":8.5,"lineBreak":"\n","lineHeight":11,"color":"#111"},
      "encoding":{"x":{"field":"g","type":"nominal"},"y":{"datum":372,"type":"quantitative"},"text":{"field":"t"}}},
     {"data":{"name":"grp"},"transform":[{"filter":"datum.p=='c1'"}],"mark":{"type":"tick","orient":"horizontal","size":20,"thickness":0.8,"color":"#aaa"},
      "encoding":{"x":{"field":"g","type":"nominal"},"y":{"datum":205,"type":"quantitative"}}},
     {"data":{"name":"grp"},"transform":[{"filter":"datum.p=='c1'"}],"mark":{"type":"text","baseline":"middle","fontSize":8,"color":"#333"},
      "encoding":{"x":{"field":"g","type":"nominal"},"y":{"datum":215,"type":"quantitative"},"text":{"field":"s"}}},
     {"data":{"name":"pts"},"transform":[{"filter":"datum.p=='c1'"}],"mark":{"type":"errorbar","extent":"stdev","ticks":{"size":7}},
      "encoding":{"x":{"field":"g","type":"nominal"},"xOffset":{"field":"c","type":"nominal","scale":{"domain":["ui","RV"],"paddingInner":0,"paddingOuter":0.1}},
       "y":{"field":"v","type":"quantitative","scale":{"domain":[0,1,5,15,50,200,245],"range":[78,55,43,27,17,4,0],"nice":false,"zero":false},"axis":{"values":[0,1,5,15,50,200],"tickCount":12,"format":"~r","title":"Cell number (×10⁴)"}},
       "color":{"condition":{"test":"datum.c=='RV'","value":"#b4585c"},"value":"#444"}}},
     {"data":{"name":"pts"},"transform":[{"filter":"datum.p=='c1'"}],"mark":{"type":"tick","thickness":1,"size":11},
      "encoding":{"x":{"field":"g","type":"nominal"},"xOffset":{"field":"c","type":"nominal"},"y":{"aggregate":"mean","field":"v","type":"quantitative"},
       "color":{"condition":{"test":"datum.c=='RV'","value":"#b4585c"},"value":"#444"}}},
     {"data":{"name":"pts"},"transform":[{"filter":"datum.p=='c1'"}],"mark":{"type":"point","filled":true,"size":14,"opacity":1},
      "encoding":{"x":{"field":"g","type":"nominal"},"xOffset":{"field":"c","type":"nominal"},"y":{"field":"v","type":"quantitative"},
       "color":{"field":"c","type":"nominal","scale":{"domain":["ui","RV"],"range":["#111","#a3151c"]},"legend":null}}}
    ]},
   {"width":118,"height":80,
    "layer":[
     {"data":{"name":"grp"},"transform":[{"filter":"datum.p=='c2' && datum.g!='a'"}],"mark":{"type":"rule","strokeDash":[1.5,1.5],"color":"#000"},
      "encoding":{"x":{"field":"g","type":"nominal","bandPosition":0,"scale":{"type":"band","domain":["a","b","c"],"paddingInner":0,"paddingOuter":0},"axis":{"labels":false,"ticks":false,"title":null}}}},
     {"data":{"name":"grp"},"transform":[{"filter":"datum.p=='c2'"}],"mark":{"type":"text","baseline":"bottom","fontSize":8.5,"lineBreak":"\n","lineHeight":12,"color":"#111"},
      "encoding":{"x":{"field":"g","type":"nominal"},"y":{"datum":20.3,"type":"quantitative"},"text":{"field":"t"}}},
     {"data":{"name":"grp"},"transform":[{"filter":"datum.p=='c2'"}],"mark":{"type":"tick","orient":"horizontal","size":20,"thickness":0.8,"color":"#aaa"},
      "encoding":{"x":{"field":"g","type":"nominal"},"y":{"datum":17.6,"type":"quantitative"}}},
     {"data":{"name":"grp"},"transform":[{"filter":"datum.p=='c2'"}],"mark":{"type":"text","baseline":"middle","fontSize":8,"color":"#333"},
      "encoding":{"x":{"field":"g","type":"nominal"},"y":{"datum":17.8,"type":"quantitative"},"text":{"field":"s"}}},
     {"data":{"name":"pts"},"transform":[{"filter":"datum.p=='c2'"}],"mark":{"type":"errorbar","extent":"stdev","ticks":{"size":7}},
      "encoding":{"x":{"field":"g","type":"nominal"},"xOffset":{"field":"c","type":"nominal","scale":{"domain":["ui","RV"],"paddingInner":0,"paddingOuter":0.1}},
       "y":{"field":"v","type":"quantitative","scale":{"domain":[0,20],"nice":false},"axis":{"values":[0,5,10,15,20],"tickCount":12,"format":"~r","title":"Cell number (×10⁴)"}},
       "color":{"condition":{"test":"datum.c=='RV'","value":"#b4585c"},"value":"#444"}}},
     {"data":{"name":"pts"},"transform":[{"filter":"datum.p=='c2'"}],"mark":{"type":"tick","thickness":1,"size":11},
      "encoding":{"x":{"field":"g","type":"nominal"},"xOffset":{"field":"c","type":"nominal"},"y":{"aggregate":"mean","field":"v","type":"quantitative"},
       "color":{"condition":{"test":"datum.c=='RV'","value":"#b4585c"},"value":"#444"}}},
     {"data":{"name":"pts"},"transform":[{"filter":"datum.p=='c2'"}],"mark":{"type":"point","filled":true,"size":14,"opacity":1},
      "encoding":{"x":{"field":"g","type":"nominal"},"xOffset":{"field":"c","type":"nominal"},"y":{"field":"v","type":"quantitative"},
       "color":{"field":"c","type":"nominal","scale":{"domain":["ui","RV"],"range":["#111","#a3151c"]},"legend":null}}}
    ]},
   {"width":118,"height":79,
    "layer":[
     {"data":{"name":"grp"},"transform":[{"filter":"datum.p=='c3' && datum.g!='a'"}],"mark":{"type":"rule","strokeDash":[1.5,1.5],"color":"#000"},
      "encoding":{"x":{"field":"g","type":"nominal","bandPosition":0,"scale":{"type":"band","domain":["a","b","c"],"paddingInner":0,"paddingOuter":0},"axis":{"labels":false,"ticks":false,"title":null}}}},
     {"data":{"name":"grp"},"transform":[{"filter":"datum.p=='c3'"}],"mark":{"type":"text","baseline":"bottom","fontSize":8.5,"lineBreak":"\n","lineHeight":12,"color":"#111"},
      "encoding":{"x":{"field":"g","type":"nominal"},"y":{"datum":14.05,"type":"quantitative"},"text":{"field":"t"}}},
     {"data":{"name":"grp"},"transform":[{"filter":"datum.p=='c3'"}],"mark":{"type":"tick","orient":"horizontal","size":20,"thickness":0.8,"color":"#aaa"},
      "encoding":{"x":{"field":"g","type":"nominal"},"y":{"datum":10.9,"type":"quantitative"}}},
     {"data":{"name":"grp"},"transform":[{"filter":"datum.p=='c3'"}],"mark":{"type":"text","baseline":"middle","fontSize":8,"color":"#333"},
      "encoding":{"x":{"field":"g","type":"nominal"},"y":{"datum":11.1,"type":"quantitative"},"text":{"field":"s"}}},
     {"data":{"name":"pts"},"transform":[{"filter":"datum.p=='c3'"},{"aggregate":[{"op":"count","as":"n"}],"groupby":["g","c"]}],"mark":{"type":"text","baseline":"middle","fontSize":9,"color":"#111"},
      "encoding":{"x":{"field":"g","type":"nominal"},"xOffset":{"field":"c","type":"nominal"},"y":{"datum":-2.8,"type":"quantitative"},"text":{"field":"c"}}},
     {"data":{"name":"pts"},"transform":[{"filter":"datum.p=='c3'"}],"mark":{"type":"errorbar","extent":"stdev","ticks":{"size":7}},
      "encoding":{"x":{"field":"g","type":"nominal"},"xOffset":{"field":"c","type":"nominal","scale":{"domain":["ui","RV"],"paddingInner":0,"paddingOuter":0.1}},
       "y":{"field":"v","type":"quantitative","scale":{"domain":[0,15],"nice":false},"axis":{"values":[0,5,10,15],"tickCount":12,"format":"~r","title":"Cell number (×10⁴)"}},
       "color":{"condition":{"test":"datum.c=='RV'","value":"#b4585c"},"value":"#444"}}},
     {"data":{"name":"pts"},"transform":[{"filter":"datum.p=='c3'"}],"mark":{"type":"tick","thickness":1,"size":11},
      "encoding":{"x":{"field":"g","type":"nominal"},"xOffset":{"field":"c","type":"nominal"},"y":{"aggregate":"mean","field":"v","type":"quantitative"},
       "color":{"condition":{"test":"datum.c=='RV'","value":"#b4585c"},"value":"#444"}}},
     {"data":{"name":"pts"},"transform":[{"filter":"datum.p=='c3'"}],"mark":{"type":"point","filled":true,"size":14,"opacity":1},
      "encoding":{"x":{"field":"g","type":"nominal"},"xOffset":{"field":"c","type":"nominal"},"y":{"field":"v","type":"quantitative"},
       "color":{"field":"c","type":"nominal","scale":{"domain":["ui","RV"],"range":["#111","#a3151c"]},"legend":null}}}
    ]}
   ]}
  ]}
]
}
